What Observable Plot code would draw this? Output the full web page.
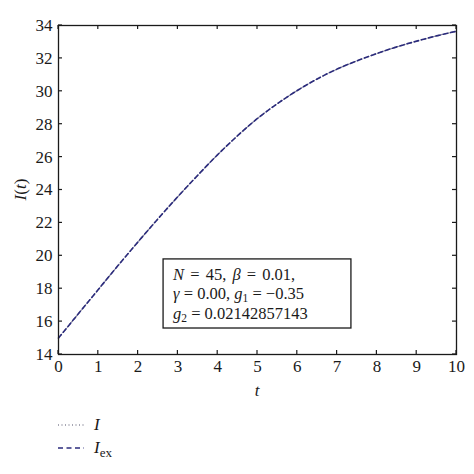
<!DOCTYPE html>
<html>
<head>
<meta charset="utf-8">
<script src="https://cdn.jsdelivr.net/npm/d3@7"></script>
<script src="https://cdn.jsdelivr.net/npm/@observablehq/plot@0.6"></script>
<style>
  html, body { margin: 0; padding: 0; background: #fff; }
  #wrap { position: relative; width: 474px; height: 474px; font-family: "Liberation Serif", "DejaVu Serif", serif; }
  #wrap svg text { font-family: "Liberation Serif", "DejaVu Serif", serif; }
  #legend { position: absolute; left: 0; top: 412px; width: 474px; }
  #legend svg { display: block; }
</style>
</head>
<body>
<div id="wrap">
  <div id="chart"></div>
  <div id="legend"></div>
</div>
<script>
// ---- data ----
const tValues   = [0, 0.5, 1, 1.5, 2, 2.5, 3, 3.5, 4, 4.5, 5, 5.5, 6, 6.5, 7, 7.5, 8, 8.5, 9, 9.5, 10];
const iValues   = [15.0, 16.48, 17.95, 19.42, 20.85, 22.25, 23.6, 24.9, 26.15, 27.3, 28.35, 29.25, 30.05, 30.75, 31.35, 31.85, 32.3, 32.7, 33.05, 33.37, 33.65];
const iexValues = [15.0, 16.48, 17.95, 19.42, 20.85, 22.25, 23.6, 24.9, 26.15, 27.3, 28.35, 29.25, 30.05, 30.75, 31.35, 31.85, 32.3, 32.7, 33.05, 33.37, 33.65];
const xTicks = [0, 1, 2, 3, 4, 5, 6, 7, 8, 9, 10];
const yTicks = [14, 16, 18, 20, 22, 24, 26, 28, 30, 32, 34];
const seriesNames = ["I", "Iex"];
const seriesColors = ["#8a8a9a", "#2b2b7c"];
// annotation box (data coordinates)
const boxX = [2.64, 7.36];
const boxY = [15.58, 19.78];
const boxLines = [
  [["N", "i"], [" = 45, ", ""], ["β", "i"], [" = 0.01,", ""]],
  [["γ", "i"], [" = 0.00, ", ""], ["g", "i"], ["1", "sub"], [" = −0.35", "after"]],
  [["g", "i"], ["2", "sub"], [" = 0.02142857143", "after"]]
];

const iData = tValues.map((t, k) => ({t, v: iValues[k]}));
const iexData = tValues.map((t, k) => ({t, v: iexValues[k]}));

const font = "Liberation Serif";
const ink = "#1a1a1a";

const plot = Plot.plot({
  width: 474,
  height: 400,
  marginLeft: 58,
  marginRight: 18,
  marginTop: 25,
  marginBottom: 46,
  style: {fontFamily: font, fontSize: "17px", background: "white", color: ink},
  x: {domain: [0, 10]},
  y: {domain: [14, 34]},
  marks: [
    Plot.axisX({ticks: xTicks, tickSize: 0, tickPadding: 5, label: null, fontFamily: font, fontSize: 17, fill: ink}),
    Plot.axisY({ticks: yTicks, tickSize: 0, tickPadding: 6, label: null, fontFamily: font, fontSize: 17, fill: ink}),
    Plot.rect([0], {x1: () => boxX[0], x2: () => boxX[1], y1: () => boxY[0], y2: () => boxY[1], fill: "white", stroke: ink, strokeWidth: 1.3}),
    Plot.line(iData, {x: "t", y: "v", stroke: seriesColors[0], strokeWidth: 1.3, strokeDasharray: "1,2.5", curve: "monotone-x"}),
    Plot.line(iexData, {x: "t", y: "v", stroke: seriesColors[1], strokeWidth: 1.6, strokeDasharray: "4.5,3", curve: "monotone-x"}),
    Plot.frame({stroke: ink, strokeWidth: 1.3})
  ]
});
document.getElementById("chart").appendChild(plot);

const svg = d3.select(plot);
const xs = plot.scale("x"), ys = plot.scale("y");
const [yB, yT] = [ys.apply(14), ys.apply(34)];
const [xL, xR] = [xs.apply(0), xs.apply(10)];
const tl = 4;
// inward ticks on all four sides
const tg = svg.append("g").attr("stroke", ink).attr("stroke-width", 1.2);
xTicks.forEach(v => {
  const x = xs.apply(v);
  tg.append("line").attr("x1", x).attr("x2", x).attr("y1", yB).attr("y2", yB - tl);
  tg.append("line").attr("x1", x).attr("x2", x).attr("y1", yT).attr("y2", yT + tl);
});
yTicks.forEach(v => {
  const y = ys.apply(v);
  tg.append("line").attr("y1", y).attr("y2", y).attr("x1", xL).attr("x2", xL + tl);
  tg.append("line").attr("y1", y).attr("y2", y).attr("x1", xR).attr("x2", xR - tl);
});
// x label
svg.append("text").attr("x", xs.apply(5)).attr("y", 396).attr("text-anchor", "middle")
  .attr("font-size", 17).attr("font-style", "italic").attr("fill", ink).text("t");
// y label
const yl = svg.append("text").attr("transform", `translate(26,${ys.apply(24)}) rotate(-90)`)
  .attr("text-anchor", "middle").attr("font-size", 17).attr("fill", ink);
yl.append("tspan").attr("font-style", "italic").text("I");
yl.append("tspan").text("(");
yl.append("tspan").attr("font-style", "italic").text("t");
yl.append("tspan").text(")");
// annotation text
const tx = xs.apply(boxX[0]) + 10;
const ty0 = ys.apply(boxY[1]) + 21;
boxLines.forEach((parts, li) => {
  const t = svg.append("text").attr("x", tx).attr("y", ty0 + li * 19.5).attr("text-anchor", "start")
    .attr("font-size", 16.5).attr("fill", ink).attr("word-spacing", li === 0 ? 2 : 0);
  parts.forEach(([s, st]) => {
    const sp = t.append("tspan").text(s);
    if (st === "i") sp.attr("font-style", "italic");
    if (st === "sub") sp.attr("font-size", 11.5).attr("dy", 3);
    if (st === "after") sp.attr("dy", -3);
  });
});

// legend
const leg = d3.select("#legend").append("svg").attr("width", 474).attr("height", 60);
const legRows = [
  {name: seriesNames[0], color: seriesColors[0], dash: "1,2.5", w: 1.3, y: 13},
  {name: seriesNames[1], color: seriesColors[1], dash: "5,3.5", w: 1.6, y: 36}
];
legRows.forEach(r => {
  leg.append("line").attr("x1", 58).attr("x2", 84).attr("y1", r.y).attr("y2", r.y)
    .attr("stroke", r.color).attr("stroke-width", r.w).attr("stroke-dasharray", r.dash);
  const t = leg.append("text").attr("x", 94).attr("y", r.y + 5).attr("font-size", 17).attr("fill", ink);
  t.append("tspan").attr("font-style", "italic").text("I");
  if (r.name.length > 1) t.append("tspan").attr("dy", 4).attr("font-size", 13).text(r.name.slice(1));
});
</script>
</body>
</html>
